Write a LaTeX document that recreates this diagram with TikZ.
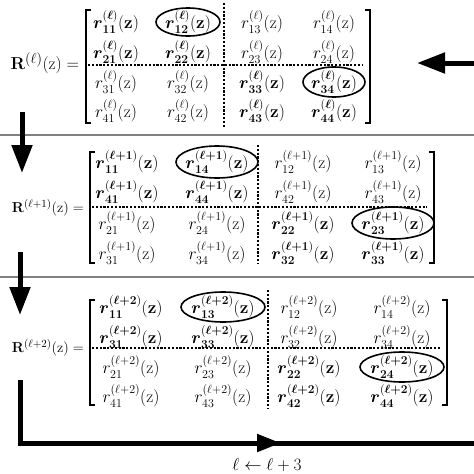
\documentclass[tikz,border=0pt]{standalone}
\usepackage{amsmath}
\usetikzlibrary{arrows.meta}
\newcommand\eB[2]{$\boldsymbol{r}^{(\boldsymbol{#1})}_{\mathbf{#2}}(\mathbf{z})$}
\newcommand\eN[2]{$r^{(#1)}_{#2}(\mathrm{z})$}
\tikzset{
  ent/.style={inner sep=0pt, font=\fontsize{18.5}{22}\selectfont},
  lab/.style={inner sep=0pt, anchor=east, font=\fontsize{19}{23}\selectfont},
  labs/.style={inner sep=0pt, anchor=east, font=\fontsize{15.5}{19}\selectfont},
  brk/.style={line width=1.2pt},
  sep/.style={draw=gray, line width=1.3pt},
  dots/.style={line width=2.2pt, dash pattern=on 2.2pt off 1.6pt},
  ring/.style={line width=1.6pt},
  bigarrow/.style={line width=5pt, -{Triangle[length=28pt,width=20pt]}},
  thick5/.style={line width=5pt}
}
\begin{document}
\begin{tikzpicture}[x=1pt,y=-1pt]
\useasboundingbox (0,0) rectangle (474,474);
% separators
\draw[sep] (0,135) -- (474,135);
\draw[sep] (0,277) -- (474,277);

% ---------- matrix 1 ----------
\node[lab] (L1) at (84,63) {$\mathbf{R}^{(\ell)}(\mathrm{z}) = {}$};
\node[ent] (a11) at (116,22) {\eB{\ell}{11}};
\node[ent] (a12) at (188,22) {\eB{\ell}{12}};
\node[ent] (a13) at (262,22) {\eN{\ell}{13}};
\node[ent] (a14) at (334,22) {\eN{\ell}{14}};
\node[ent] (a21) at (116,52) {\eB{\ell}{21}};
\node[ent] (a22) at (188,52) {\eB{\ell}{22}};
\node[ent] (a23) at (262,52) {\eN{\ell}{23}};
\node[ent] (a24) at (334,52) {\eN{\ell}{24}};
\node[ent] (a31) at (116,82) {\eN{\ell}{31}};
\node[ent] (a32) at (188,82) {\eN{\ell}{32}};
\node[ent] (a33) at (262,82) {\eB{\ell}{33}};
\node[ent] (a34) at (334,82) {\eB{\ell}{34}};
\node[ent] (a41) at (116,111) {\eN{\ell}{41}};
\node[ent] (a42) at (188,111) {\eN{\ell}{42}};
\node[ent] (a43) at (262,111) {\eB{\ell}{43}};
\node[ent] (a44) at (334,111) {\eB{\ell}{44}};
\draw[brk] (91,10) -- (86,10) -- (86,123) -- (91,123);
\draw[brk] (365,10) -- (370,10) -- (370,123) -- (365,123);
\draw[dots] (224,3) -- (224,128);
\draw[dots] (88,65) -- (363,65);
\draw[ring] (a12) ellipse (32pt and 14pt);
\draw[ring] (a34) ellipse (31pt and 15pt);

% ---------- matrix 2 ----------
\node[labs] (L2) at (88,208) {$\mathbf{R}^{(\ell+1)}(\mathrm{z}) = {}$};
\node[ent] (b11) at (127,162) {\eB{\ell+1}{11}};
\node[ent] (b14) at (217,162) {\eB{\ell+1}{14}};
\node[ent] (b12) at (303,162) {\eN{\ell+1}{12}};
\node[ent] (b13) at (393,162) {\eN{\ell+1}{13}};
\node[ent] (b41) at (127,192) {\eB{\ell+1}{41}};
\node[ent] (b44) at (217,192) {\eB{\ell+1}{44}};
\node[ent] (b42) at (303,192) {\eN{\ell+1}{42}};
\node[ent] (b43) at (393,192) {\eN{\ell+1}{43}};
\node[ent] (b21) at (127,223) {\eN{\ell+1}{21}};
\node[ent] (b24) at (217,223) {\eN{\ell+1}{24}};
\node[ent] (b22) at (303,223) {\eB{\ell+1}{22}};
\node[ent] (b23) at (393,223) {\eB{\ell+1}{23}};
\node[ent] (b31) at (127,253) {\eN{\ell+1}{31}};
\node[ent] (b34) at (217,253) {\eN{\ell+1}{34}};
\node[ent] (b32) at (303,253) {\eB{\ell+1}{32}};
\node[ent] (b33) at (393,253) {\eB{\ell+1}{33}};
\draw[brk] (95,152) -- (90,152) -- (90,263) -- (95,263);
\draw[brk] (429,152) -- (434,152) -- (434,263) -- (429,263);
\draw[dots] (258,145) -- (258,263);
\draw[dots] (92,207) -- (427,207);
\draw[ring] (b14) ellipse (41pt and 16pt);
\draw[ring] (b23) ellipse (41pt and 16pt);

% ---------- matrix 3 ----------
\node[labs] (L3) at (88,348) {$\mathbf{R}^{(\ell+2)}(\mathrm{z}) = {}$};
\node[ent] (c11) at (131,307) {\eB{\ell+2}{11}};
\node[ent] (c13) at (223,307) {\eB{\ell+2}{13}};
\node[ent] (c12) at (309,307) {\eN{\ell+2}{12}};
\node[ent] (c14) at (402,307) {\eN{\ell+2}{14}};
\node[ent] (c31) at (131,337) {\eB{\ell+2}{31}};
\node[ent] (c33) at (223,337) {\eB{\ell+2}{33}};
\node[ent] (c32) at (309,337) {\eN{\ell+2}{32}};
\node[ent] (c34) at (402,337) {\eN{\ell+2}{34}};
\node[ent] (c21) at (131,367) {\eN{\ell+2}{21}};
\node[ent] (c23) at (223,367) {\eN{\ell+2}{23}};
\node[ent] (c22) at (309,367) {\eB{\ell+2}{22}};
\node[ent] (c24) at (402,367) {\eB{\ell+2}{24}};
\node[ent] (c41) at (131,396) {\eN{\ell+2}{41}};
\node[ent] (c43) at (223,396) {\eN{\ell+2}{43}};
\node[ent] (c42) at (309,396) {\eB{\ell+2}{42}};
\node[ent] (c44) at (402,396) {\eB{\ell+2}{44}};
\draw[brk] (95,300) -- (90,300) -- (90,405) -- (95,405);
\draw[brk] (442,300) -- (447,300) -- (447,405) -- (442,405);
\draw[dots] (268,290) -- (268,408);
\draw[dots] (92,348) -- (440,348);
\draw[ring] (c13) ellipse (42pt and 15pt);
\draw[ring] (c24) ellipse (42pt and 15pt);

% ---------- arrows ----------
\coordinate (p1) at (22,112);
\coordinate (p2) at (22,173);
\coordinate (p3) at (20,252);
\coordinate (p4) at (20,315);
\coordinate (p5) at (20,380);
\coordinate (p6) at (20,443);
\coordinate (p7) at (281,443);
\coordinate (p8) at (480,443);
\coordinate (p9) at (480,63);
\coordinate (p10) at (417,63);
\draw[bigarrow] (p1) -- (p2);
\draw[bigarrow] (p3) -- (p4);
\draw[thick5] (p5) -- (p6) -- (p8);
\draw[line width=5pt, -{Triangle[length=24pt,width=17pt]}] (p6) -- (p7);
\draw[line width=5pt, -{Triangle[length=28pt,width=20pt]}] (p9) -- (p10);
\node[inner sep=0pt, font=\fontsize{17}{20}\selectfont] (upd) at (267,465) {$\ell \leftarrow \ell + 3$};
\end{tikzpicture}
\end{document}
